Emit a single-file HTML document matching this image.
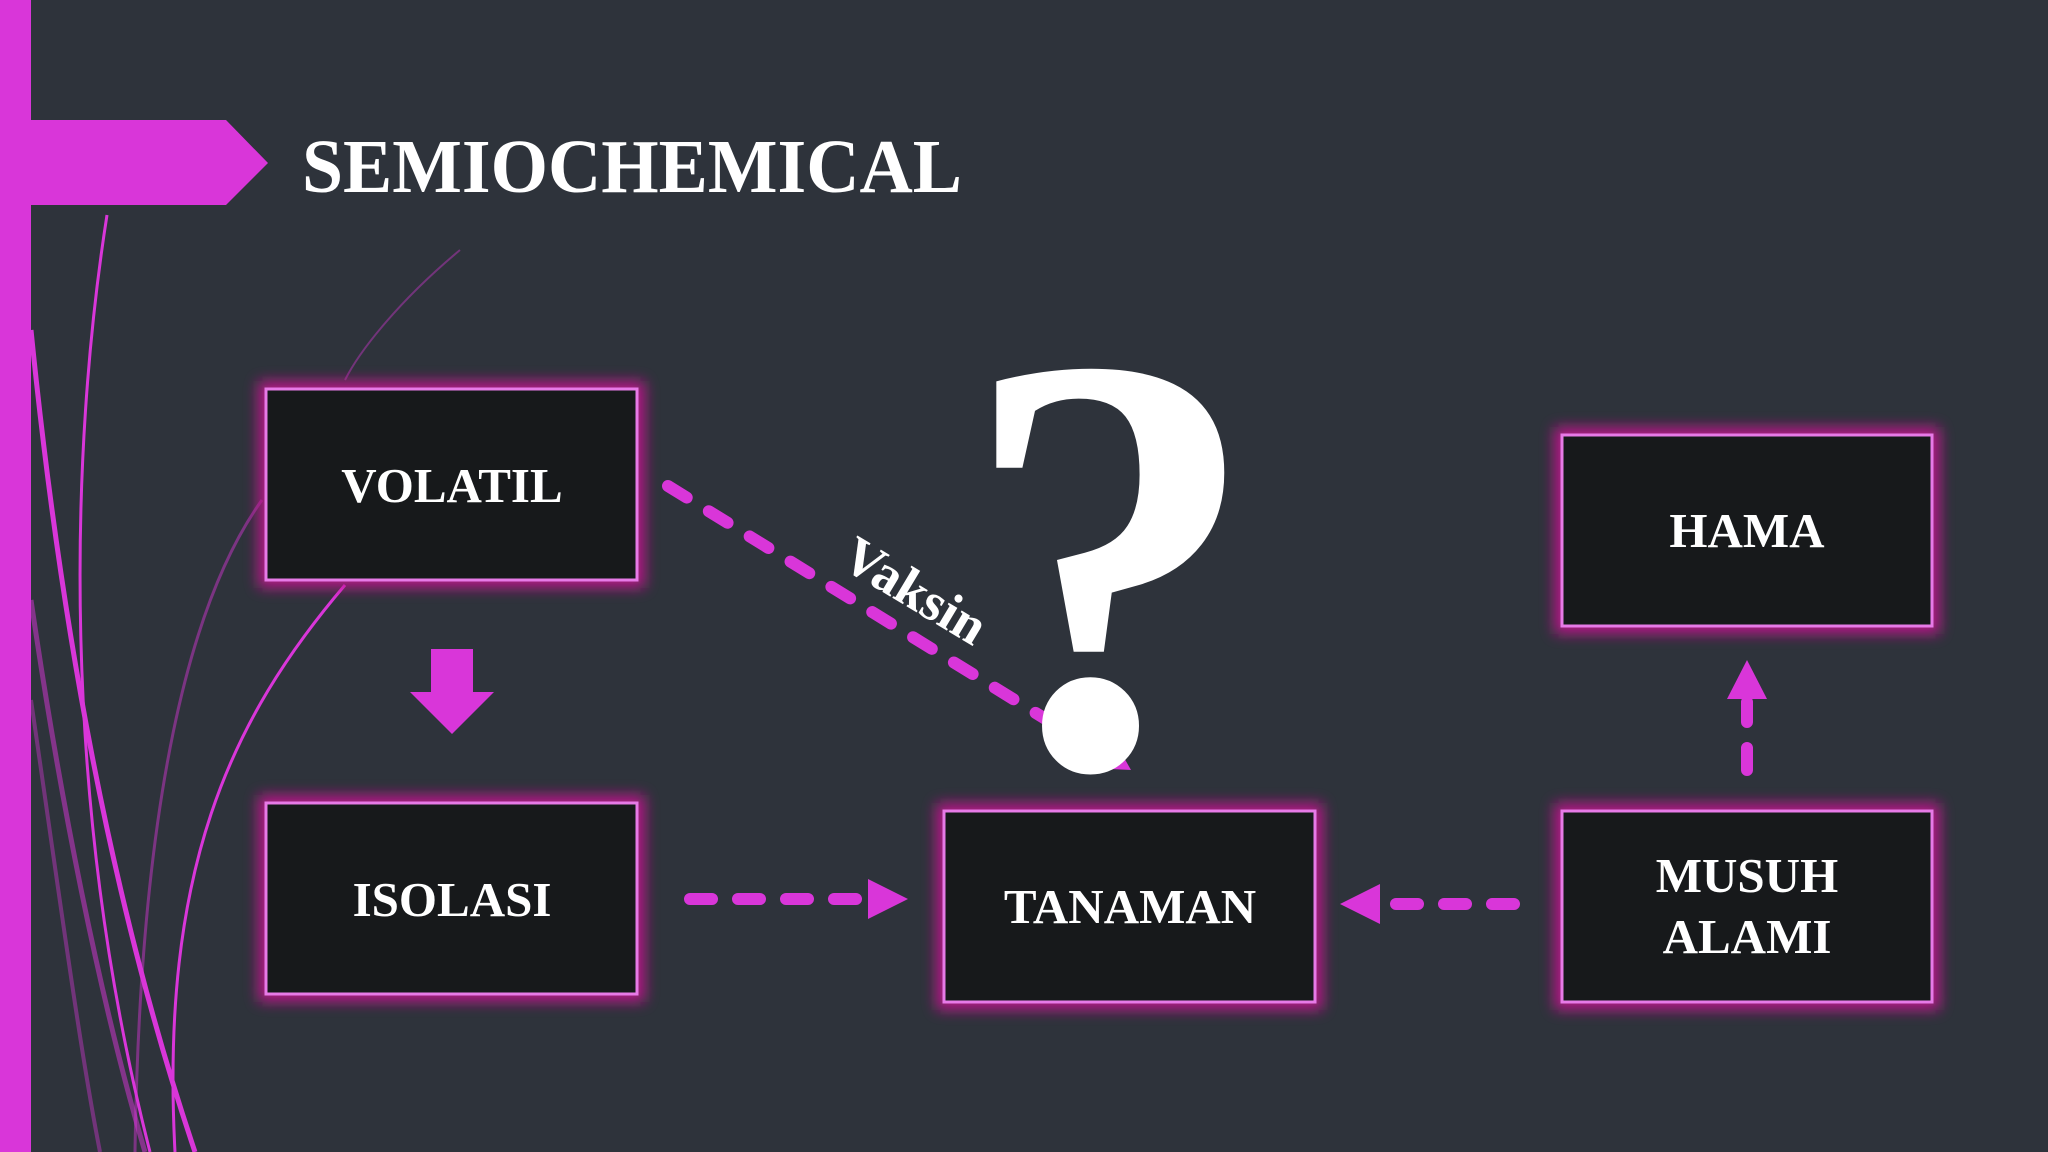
<!DOCTYPE html>
<html><head><style>
html,body{margin:0;padding:0;background:#2e333b;}
svg{display:block}
</style></head><body>
<svg width="2048" height="1152" viewBox="0 0 2048 1152" xmlns="http://www.w3.org/2000/svg">
<defs>
<filter id="glow" x="-20%" y="-20%" width="140%" height="140%">
<feGaussianBlur stdDeviation="7"/>
</filter>
</defs>
<rect width="2048" height="1152" fill="#2e333b"/>
<g fill="none" stroke="#d936d9">
<path d="M31 330 C60 620 110 900 195 1152" stroke-width="5"/>
<path d="M107 215 C70 450 60 800 150 1152" stroke-width="3"/>
<path d="M345 585 C230 720 160 870 175 1152" stroke-width="3"/>
<path d="M31 600 C60 800 100 1000 145 1152" stroke-width="5" opacity="0.5"/>
<path d="M31 700 C60 900 80 1050 100 1152" stroke-width="4" opacity="0.4"/>
<path d="M262 500 C190 600 140 800 135 1152" stroke-width="3" opacity="0.45"/>
<path d="M460 250 C400 300 360 350 345 380" stroke-width="2" opacity="0.4"/>
</g>
<rect x="0" y="0" width="31" height="1152" fill="#d936d9"/>
<polygon points="31,120 226,120 268,163 226,205 31,205" fill="#d936d9"/>
<text x="302" y="192" font-family="Liberation Serif, serif" font-weight="bold" font-size="76" fill="#fff" textLength="660" lengthAdjust="spacingAndGlyphs">SEMIOCHEMICAL</text>
<g>
<g filter="url(#glow)" fill="#c2188f" opacity="0.9">
<rect x="258" y="381" width="387" height="207"/>
<rect x="258" y="795" width="387" height="207"/>
<rect x="936" y="803" width="387" height="207"/>
<rect x="1554" y="427" width="386" height="207"/>
<rect x="1554" y="803" width="386" height="207"/>
</g>
<g fill="#17191b" stroke="#e77ae7" stroke-width="3">
<rect x="266" y="389" width="371" height="191"/>
<rect x="266" y="803" width="371" height="191"/>
<rect x="944" y="811" width="371" height="191"/>
<rect x="1562" y="435" width="370" height="191"/>
<rect x="1562" y="811" width="370" height="191"/>
</g>
<g font-family="Liberation Serif, serif" font-weight="bold" font-size="49" fill="#fff" text-anchor="middle">
<text x="452" y="502">VOLATIL</text>
<text x="452" y="916">ISOLASI</text>
<text x="1130" y="923">TANAMAN</text>
<text x="1747" y="547">HAMA</text>
<text x="1747" y="892">MUSUH</text>
<text x="1747" y="953">ALAMI</text>
</g>
</g>
<polygon points="431,649 473,649 473,692 494,692 452,734 410,692 431,692" fill="#d936d9"/>
<g stroke="#d936d9" stroke-width="12" stroke-linecap="round" stroke-dasharray="22 26" fill="none">
<line x1="690" y1="899" x2="862" y2="899"/>
<line x1="1514" y1="904" x2="1385" y2="904"/>
<line x1="1747" y1="770" x2="1747" y2="702"/>
<line x1="668" y1="486" x2="1086" y2="744"/>
</g>
<g fill="#d936d9">
<polygon points="868,879 908,899 868,919"/>
<polygon points="1380,884 1340,904 1380,924"/>
<polygon points="1727,699 1747,660 1767,699"/>
<polygon points="1110,733 1090,768 1131,770"/>
</g>
<text x="906" y="606" transform="rotate(31 906 606)" font-family="Liberation Serif, serif" font-weight="bold" font-size="54" fill="#fff" text-anchor="middle">Vaksin</text>
<text x="1110" y="766" font-family="Liberation Serif, serif" font-weight="bold" font-size="600" fill="#fff" text-anchor="middle">?</text>
</svg>
</body></html>
